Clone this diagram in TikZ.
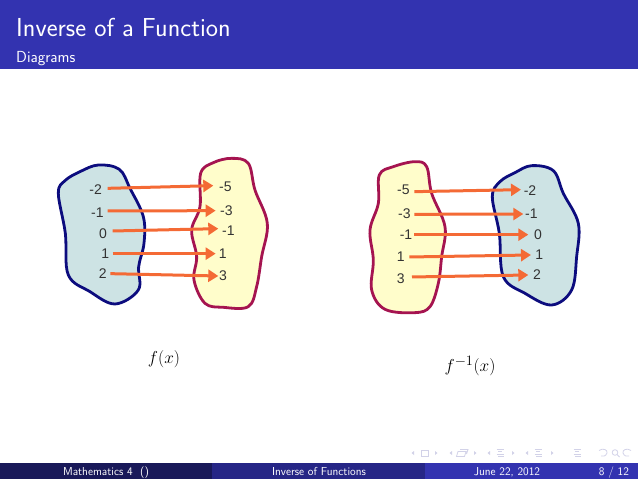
\documentclass[tikz,border=0pt]{standalone}
\usepackage{fontspec}
\usepackage{amsmath}
\setmainfont{Latin Modern Roman}
\setsansfont{Latin Modern Sans}
\newfontfamily\lab{Liberation Sans}
\usetikzlibrary{arrows.meta}
\definecolor{headblue}{HTML}{3333B0}
\definecolor{footdark}{HTML}{191959}
\definecolor{footmid}{HTML}{262686}
\definecolor{blobblue}{HTML}{CDE3E4}
\definecolor{blobyellow}{HTML}{FFFDCB}
\definecolor{edgeblue}{HTML}{0C0C7E}
\definecolor{edgered}{HTML}{A51450}
\definecolor{arrowor}{HTML}{F46A35}
\definecolor{navgrey}{HTML}{D2D2E8}
\tikzset{
  bluearea/.style={draw=edgeblue,fill=blobblue,line width=2.8pt,line join=round},
  yellowarea/.style={draw=edgered,fill=blobyellow,line width=2.8pt,line join=round},
  maparrow/.style={draw=arrowor,line width=3pt,-{Triangle[length=10pt,width=12pt]}},
  vallabel/.style={inner sep=0pt,font=\lab\fontsize{14}{16}\selectfont,text=black!80},
  footlabel/.style={inner sep=0pt,text=white,font=\sffamily\fontsize{11.5}{13}\selectfont},
  navtri/.style={fill=navgrey,draw=none},
  navline/.style={draw=navgrey,line width=0.8pt}
}
\newcommand{\navtriangles}[2]{%
  \fill[navtri] (#1-1.5,453) -- (#1+1,451) -- (#1+1,455) -- cycle;
  \fill[navtri] (#2+1.5,453) -- (#2-1,451) -- (#2-1,455) -- cycle;}
\newcommand{\navstack}[1]{%
  \draw[navline] (#1-3.5,449.5) -- (#1+3.5,449.5) (#1-2,451.7) -- (#1+2,451.7) (#1-3.5,453.9) -- (#1+3.5,453.9) (#1-2,456.1) -- (#1+3.5,456.1);}
\begin{document}
\begin{tikzpicture}[x=1pt,y=-1pt]
\useasboundingbox (0,0) rectangle (638,479);
\fill[headblue] (0,0) rectangle (638,69);
\node[anchor=base west,inner sep=0pt,text=white,font=\sffamily\fontsize{26}{28}\selectfont] (title) at (16,36) {Inverse of a Function};
\node[anchor=base west,inner sep=0pt,text=white,font=\sffamily\fontsize{16}{18}\selectfont] (subtitle) at (16,62) {Diagrams};
% footer
\fill[footdark] (0,463) rectangle (212,479);
\fill[footmid] (212,463) rectangle (425,479);
\fill[headblue] (425,463) rectangle (638,479);
\node[footlabel,anchor=base] (fa) at (106,475) {Mathematics 4\ \ ()};
\node[footlabel,anchor=base] (fb) at (319,475) {Inverse of Functions};
\node[footlabel,anchor=base] (fc) at (507,475) {June 22, 2012};
\node[footlabel,anchor=base] (fd) at (614,475) {8 / 12};
% navigation symbols
\navtriangles{413}{436}
\draw[navline] (421.5,450) rectangle (428.5,456);
\navtriangles{451}{475}
\draw[navline] (458,451.5) -- (466,451.5) -- (464.5,456.5) -- (456.5,456.5) -- cycle (460,449.5) -- (468,449.5) -- (466.5,454);
\navtriangles{489}{513}
\navstack{500}
\navtriangles{527}{552}
\navstack{538}
\navstack{577}
\draw[navline] (599,450.5) .. controls (603,447.5) and (608,450) .. (607,453) .. controls (606,456) and (603,457) .. (601,456);
\draw[navline] (615,452.5) circle[radius=2.8] (617,454.5) -- (619.5,457);
\draw[navline] (631,450.5) .. controls (627,447.5) and (622,450) .. (623,453) .. controls (624,456) and (627,457) .. (629,456);
% left diagram
\begin{scope}[shift={(40,150)},x=0.3333pt,y=-0.3333pt]
\draw[bluearea] plot[smooth cycle,tension=0.6] coordinates {(175,45)(238,58)(270,115)(310,200)(312,280)(296,350)(295,420)(225,462)(150,425)(85,375)(76,250)(55,130)(75,92)(120,65)};
\draw[yellowarea] plot[smooth cycle,tension=0.6] coordinates {(575,25)(625,40)(645,120)(682,220)(665,320)(650,410)(625,470)(550,472)(495,460)(462,390)(470,320)(455,240)(480,170)(482,70)(520,38)};
\node[vallabel] (la1) at (167,120) {-2};
\node[vallabel] (la2) at (172,188) {-1};
\node[vallabel] (la3) at (189,252) {0};
\node[vallabel] (la4) at (196,310) {1};
\node[vallabel] (la5) at (188,370) {2};
\node[vallabel] (lb1) at (556,109) {-5};
\node[vallabel] (lb2) at (559,182) {-3};
\node[vallabel] (lb3) at (565,241) {-1};
\node[vallabel] (lb4) at (548,310) {1};
\node[vallabel] (lb5) at (549,377) {3};
\coordinate (sa1) at (203,115); \coordinate (ta1) at (520,107);
\coordinate (sa2) at (203,183); \coordinate (ta2) at (527,182);
\coordinate (sa3) at (218,243); \coordinate (ta3) at (535,236);
\coordinate (sa4) at (218,311); \coordinate (ta4) at (527,311);
\coordinate (sa5) at (211,371); \coordinate (ta5) at (535,378);
\foreach \i in {1,...,5} \draw[maparrow] (sa\i) -- (ta\i);
\end{scope}
\node[inner sep=0pt,font=\fontsize{19}{21}\selectfont] (fx) at (164,359) {$f(x)$};
% right diagram
\begin{scope}[shift={(360,150)},x=0.3333pt,y=-0.3333pt]
\draw[yellowarea] plot[smooth cycle,tension=0.6] coordinates {(165,35)(200,50)(215,130)(255,230)(245,320)(235,400)(210,470)(165,488)(75,478)(35,420)(40,330)(30,240)(55,160)(58,75)(100,50)};
\draw[bluearea] plot[smooth cycle,tension=0.6] coordinates {(515,47)(580,62)(610,130)(655,220)(650,320)(635,420)(575,465)(495,430)(430,380)(418,250)(397,140)(420,95)(465,68)};
\node[vallabel] (lc1) at (130,120) {-5};
\node[vallabel] (lc2) at (133,192) {-3};
\node[vallabel] (lc3) at (138,253) {-1};
\node[vallabel] (lc4) at (122,321) {1};
\node[vallabel] (lc5) at (122,387) {3};
\node[vallabel] (ld1) at (510,122) {-2};
\node[vallabel] (ld2) at (514,192) {-1};
\node[vallabel] (ld3) at (534,254) {0};
\node[vallabel] (ld4) at (538,313) {1};
\node[vallabel] (ld5) at (531,373) {2};
\coordinate (sc1) at (163,125); \coordinate (tc1) at (483,119);
\coordinate (sc2) at (163,193); \coordinate (tc2) at (490,192);
\coordinate (sc3) at (163,254); \coordinate (tc3) at (505,254);
\coordinate (sc4) at (148,321); \coordinate (tc4) at (513,315);
\coordinate (sc5) at (156,381); \coordinate (tc5) at (505,375);
\foreach \i in {1,...,5} \draw[maparrow] (sc\i) -- (tc\i);
\end{scope}
\node[inner sep=0pt,font=\fontsize{19}{21}\selectfont] (gx) at (470,366) {$f^{-1}(x)$};
\end{tikzpicture}
\end{document}
